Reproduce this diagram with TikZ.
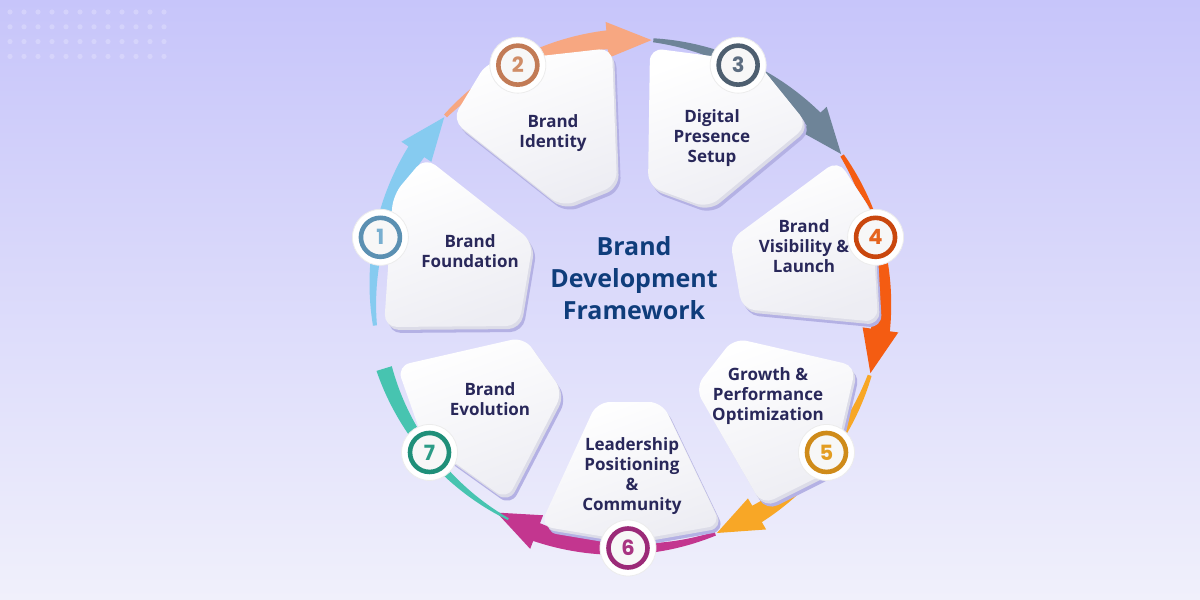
\documentclass[tikz,border=0pt]{standalone}
\usepackage{fontspec}
\setmainfont{Open Sans}
\newfontfamily\numfont{Poppins}
\usetikzlibrary{calc}
\definecolor{bgtop}{HTML}{C7C5FA}
\definecolor{bgbot}{HTML}{F0F0FB}
\definecolor{cardshadow}{HTML}{B4B1E4}
\definecolor{cardside}{HTML}{DCDCE8}
\definecolor{cardbot}{HTML}{EDEDF3}
\definecolor{txt}{HTML}{29285A}
\definecolor{ttl}{HTML}{0F3D7B}
\definecolor{a1}{HTML}{86CBF0}
\definecolor{a2}{HTML}{F7A781}
\definecolor{a3}{HTML}{6E8498}
\definecolor{a4}{HTML}{F45C12}
\definecolor{a5}{HTML}{F8A726}
\definecolor{a6}{HTML}{C3368F}
\definecolor{a7}{HTML}{47C4B0}
\definecolor{r1}{HTML}{5B90B2}
\definecolor{r2}{HTML}{C27B56}
\definecolor{r3}{HTML}{4E5F70}
\definecolor{r4}{HTML}{C9470E}
\definecolor{r5}{HTML}{CF8B1A}
\definecolor{r6}{HTML}{9B2A78}
\definecolor{r7}{HTML}{1F8F79}
\definecolor{n1}{HTML}{78AFD0}
\definecolor{n2}{HTML}{D08D67}
\definecolor{n3}{HTML}{5C6D80}
\definecolor{n4}{HTML}{E5641E}
\definecolor{n5}{HTML}{E39D22}
\definecolor{n6}{HTML}{A93582}
\definecolor{n7}{HTML}{2B9C86}
\tikzset{
  lbl/.style={font=\bfseries\fontsize{17}{20}\selectfont, text=txt, align=center, inner sep=0pt},
  ttlstyle/.style={font=\bfseries\fontsize{25}{32}\selectfont, text=ttl, align=center, inner sep=0pt},
  badgeout/.style={circle, minimum size=56pt, inner sep=0pt, fill=white, draw=gray!15, line width=0.8pt},
  badgenum/.style={font=\numfont\bfseries\fontsize{21}{21}\selectfont, inner sep=0pt}
}
\newcommand\ringarrow[2]{%
  \pgfmathsetmacro\as{#2-20}\pgfmathsetmacro\ab{#2+21}\pgfmathsetmacro\at{#2+31}%
  \fill[#1,shift={(628,294)}] plot[domain=\as:\ab,samples=40] (\x:{255+2+7.5*(\x-\as)/(\ab-\as)})
    -- (\ab:273) -- (\at:255) -- (\ab:237)
    -- plot[domain=\ab:\as,samples=40] (\x:{255-2-7.5*(\x-\as)/(\ab-\as)}) -- cycle;}
\newcommand\card[5]{%
  \fill[cardshadow, rounded corners=13pt, shift={(4,6)}] #1 -- #2 -- #3 -- #4 -- #5 -- cycle;
  \fill[cardside, rounded corners=13pt, shift={(2,3)}] #1 -- #2 -- #3 -- #4 -- #5 -- cycle;
  \shade[rounded corners=13pt, top color=white, bottom color=cardbot, shading angle=20] #1 -- #2 -- #3 -- #4 -- #5 -- cycle;}
\begin{document}
\begin{tikzpicture}[x=1pt,y=-1pt]
\useasboundingbox (0,0) rectangle (1200,600);
\shade[top color=bgtop, bottom color=bgbot] (0,0) rectangle (1200,600);
\foreach \i in {0,...,11} \foreach \j in {0,...,3}
  \fill[white, opacity=0.22] ({10+14*\i},{12+14.8*\j}) circle[radius=2.6pt];

% ring arrows
\ringarrow{a1}{192.9}
\ringarrow{a2}{244.3}
\ringarrow{a3}{295.7}
\ringarrow{a4}{347.1}
\ringarrow{a5}{398.6}
\ringarrow{a6}{450}
\fill[a7,shift={(628,294)}] plot[domain=478:523,samples=40] (\x:{255+1+7*(\x-478)/45})
  -- plot[domain=523:478,samples=40] (\x:{255-1-7*(\x-478)/45}) -- cycle;

% cards
\card{(425,157)}{(533,242)}{(519,326)}{(384,327)}{(393,195)}
\card{(452,120)}{(487,62)}{(612,48)}{(617,185)}{(562,207)}
\card{(650,48)}{(757,62)}{(808,125)}{(708,208)}{(648,186)}
\card{(838,160)}{(872,212)}{(878,322)}{(742,309)}{(730,240)}
\card{(734,338)}{(856,366)}{(832,470)}{(762,505)}{(695,388)}
\card{(597,402)}{(662,402)}{(721,525)}{(630,541)}{(540,526)}
\card{(397,366)}{(524,337)}{(563,392)}{(507,500)}{(423,440)}

% badges
\node[badgeout] (b1) at ($(628,294)+(192.9:254)$) {};
\node[badgeout] (b2) at ($(628,294)+(244.3:254)$) {};
\node[badgeout] (b3) at ($(628,294)+(295.7:254)$) {};
\node[badgeout] (b4) at ($(628,294)+(347.1:254)$) {};
\node[badgeout] (b5) at ($(628,294)+(398.6:254)$) {};
\node[badgeout] (b6) at ($(628,294)+(450:254)$) {};
\node[badgeout] (b7) at ($(628,294)+(501.4:254)$) {};
\foreach \k in {1,...,7}
  \draw[r\k, line width=4.6pt, fill=gray!6] (b\k.center) circle[radius=19.5pt];
\foreach \k in {1,...,7}
  \node[badgenum, text=n\k] (n\k) at (b\k.center) {\k};

% labels
\node[lbl] (t1) at (470,251) {Brand\\Foundation};
\node[lbl] (t2) at (553,133) {Brand\\Identity};
\node[lbl] (t3) at (712,138) {Digital\\Presence\\Setup};
\node[lbl] (t4) at (804,246) {Brand\\Visibility \&\\Launch};
\node[lbl] (t5) at (768,396) {Growth \&\\Performance\\Optimization};
\node[lbl] (t6) at (632,476) {Leadership\\Positioning\\\&\\Community};
\node[lbl] (t7) at (490,399) {Brand\\Evolution};
\node[ttlstyle] (title) at (634,278) {Brand\\Development\\Framework};
\end{tikzpicture}
\end{document}
